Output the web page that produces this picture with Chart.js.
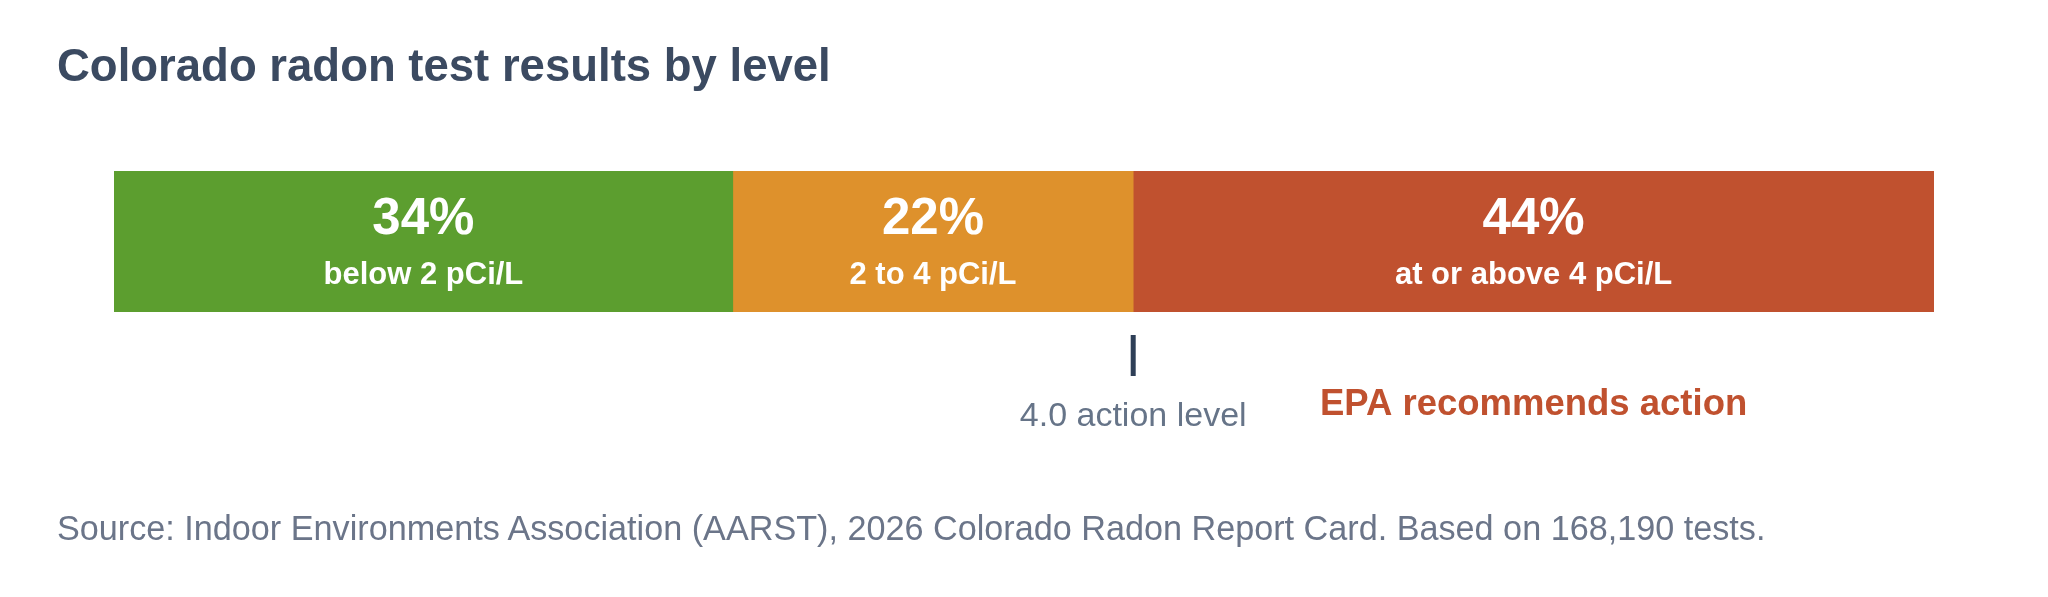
<!DOCTYPE html>
<html>
<head>
<meta charset="utf-8">
<script src="https://cdn.jsdelivr.net/npm/chart.js@4"></script>
<style>
    body { margin: 0; background: #fff; }
    #wrap { position: relative; width: 2048px; height: 597px; font-family: "Liberation Sans", Arial, sans-serif; }
    #title { position: absolute; left: 57px; top: 40px; font-size: 45.5px; font-weight: bold; color: #3b4a61; white-space: nowrap; }
    #source { position: absolute; left: 57px; top: 509px; font-size: 34.2px; color: #6b7589; white-space: nowrap; }
    canvas { position: absolute; left: 0; top: 0; }
</style>
</head>
<body>
<div id="wrap">
    <canvas id="radonChart" width="2048" height="597"></canvas>
    <div id="title">Colorado radon test results by level</div>
    <div id="source">Source: Indoor Environments Association (AARST), 2026 Colorado Radon Report Card. Based on 168,190 tests.</div>
</div>
<script>
const categories = ['Colorado'];
const levelNames = ['below 2 pCi/L', '2 to 4 pCi/L', 'at or above 4 pCi/L'];
const levelShares = [34, 22, 44];
const levelColors = ['#5c9e2f', '#de912c', '#c0512f'];
const actionLevelIndex = 2;

const chartContext = document.getElementById('radonChart').getContext('2d');
const fontFamily = '"Liberation Sans", Arial, sans-serif';

const segmentLabels = {
    id: 'segmentLabels',
    afterDatasetsDraw(chart) {
        const ctx = chart.ctx;
        const xScale = chart.scales.x;
        ctx.save();
        ctx.textAlign = 'center';
        ctx.textBaseline = 'alphabetic';

        let barBottom = 0;
        chart.data.datasets.forEach(function (dataset, i) {
            const bar = chart.getDatasetMeta(i).data[0];
            const centerX = (bar.x + bar.base) / 2;
            barBottom = bar.y + bar.height / 2;
            ctx.fillStyle = '#ffffff';
            ctx.font = 'bold 51px ' + fontFamily;
            ctx.fillText(dataset.data[0] + '%', centerX, bar.y - 8);
            ctx.font = 'bold 31px ' + fontFamily;
            ctx.fillText(dataset.label, centerX, bar.y + 42);
        });

        // action level marker at the start of the last segment
        let cumulative = 0;
        for (let i = 0; i < actionLevelIndex; i++) {
            cumulative += levelShares[i];
        }
        const markX = xScale.getPixelForValue(cumulative);
        ctx.fillStyle = '#2e3f57';
        ctx.fillRect(markX - 2.5, barBottom + 23, 5, 41);

        ctx.fillStyle = '#667488';
        ctx.font = '34px ' + fontFamily;
        ctx.fillText('4.0 action level', markX, barBottom + 114);

        const highBar = chart.getDatasetMeta(actionLevelIndex).data[0];
        ctx.fillStyle = levelColors[actionLevelIndex];
        ctx.font = 'bold 36.5px ' + fontFamily;
        ctx.fillText('EPA recommends action', (highBar.x + highBar.base) / 2, barBottom + 103);
        ctx.restore();
    }
};

const config = {
    type: 'bar',
    data: {
        labels: categories,
        datasets: levelNames.map(function (name, i) {
            return {
                label: name,
                data: [levelShares[i]],
                backgroundColor: levelColors[i],
                borderWidth: 0,
                barPercentage: 1,
                categoryPercentage: 1
            };
        })
    },
    options: {
        indexAxis: 'y',
        responsive: false,
        animation: false,
        layout: {
            padding: { left: 114, right: 114, top: 171, bottom: 285 }
        },
        scales: {
            x: { stacked: true, min: 0, max: 100, display: false },
            y: { stacked: true, display: false }
        },
        plugins: {
            legend: { display: false },
            tooltip: { enabled: false }
        }
    },
    plugins: [segmentLabels]
};

const radonChart = new Chart(chartContext, config);
</script>
</body>
</html>
